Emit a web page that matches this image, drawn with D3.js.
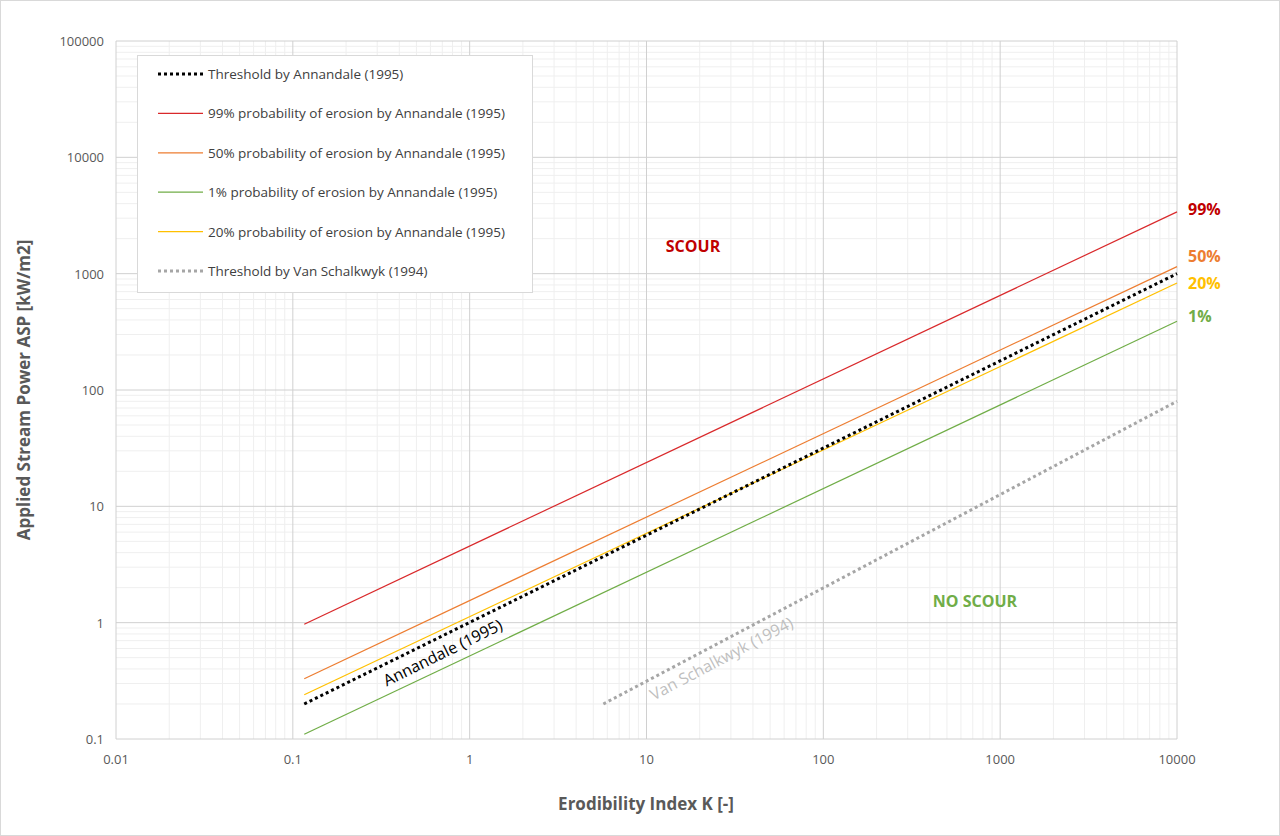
<!DOCTYPE html>
<html><head><meta charset="utf-8">
<script src="https://cdn.jsdelivr.net/npm/d3@7"></script>
<style>body{margin:0;background:#fff}text{font-family:"Open Sans",sans-serif}</style>
</head><body><div id="chart"></div>
<script>
const xTicks = [0.01, 0.1, 1, 10, 100, 1000, 10000];
const yTicks = [0.1, 1, 10, 100, 1000, 10000, 100000];
const seriesNames = ["Threshold by Annandale (1995)", "99% probability of erosion by Annandale (1995)",
  "50% probability of erosion by Annandale (1995)", "1% probability of erosion by Annandale (1995)",
  "20% probability of erosion by Annandale (1995)", "Threshold by Van Schalkwyk (1994)"];
const seriesK = [[0.116, 10000], [0.116, 10000], [0.116, 10000], [0.116, 10000], [0.116, 10000], [5.7, 10000]];
const seriesASP = [[0.2, 1000], [0.97, 3400], [0.33, 1150], [0.11, 390], [0.24, 830], [0.2, 80]];
const seriesColor = ["#000", "#d9292b", "#ed7d31", "#70ad47", "#ffc000", "#a6a6a6"];
const seriesDotted = [true, false, false, false, false, true];
const endLabels = [["99%", 3400, "#c00000"], ["50%", 1150, "#ed7d31"], ["20%", 830, "#ffc000"], ["1%", 390, "#70ad47"]];

const W = 1280, H = 836;
const x = d3.scaleLog().domain([0.01, 10000]).range([116, 1177]);
const y = d3.scaleLog().domain([0.1, 100000]).range([739, 41]);

const svg = d3.select("#chart").append("svg").attr("width", W).attr("height", H);
svg.append("rect").attr("x", 0.5).attr("y", 0.5).attr("width", W - 1).attr("height", H - 1)
  .attr("fill", "#fff").attr("stroke", "#d9d9d9");

// minor grid
const minor = v => d3.range(0, 6).flatMap(i => d3.range(2, 10).map(m => m * v[0] * 10 ** i));
svg.append("g").selectAll("line").data(minor(xTicks)).join("line")
  .attr("x1", d => x(d)).attr("x2", d => x(d)).attr("y1", 41).attr("y2", 739)
  .attr("stroke", "#efefef");
svg.append("g").selectAll("line").data(minor(yTicks)).join("line")
  .attr("y1", d => y(d)).attr("y2", d => y(d)).attr("x1", 116).attr("x2", 1177)
  .attr("stroke", "#efefef");
svg.append("g").selectAll("line").data(xTicks).join("line")
  .attr("x1", d => x(d)).attr("x2", d => x(d)).attr("y1", 41).attr("y2", 739).attr("stroke", "#d0d0d0");
svg.append("g").selectAll("line").data(yTicks).join("line")
  .attr("y1", d => y(d)).attr("y2", d => y(d)).attr("x1", 116).attr("x2", 1177).attr("stroke", "#d0d0d0");

svg.append("g").selectAll("text").data(xTicks).join("text")
  .attr("x", d => x(d)).attr("y", 764).attr("text-anchor", "middle")
  .attr("font-size", 13).attr("fill", "#595959").text(d => d);
svg.append("g").selectAll("text").data(yTicks).join("text")
  .attr("x", 104).attr("y", d => y(d) + 5).attr("text-anchor", "end")
  .attr("font-size", 13).attr("fill", "#595959").text(d => d);

svg.append("text").attr("x", 646).attr("y", 810).attr("text-anchor", "middle")
  .attr("font-size", 17).attr("font-weight", "bold").attr("fill", "#595959").text("Erodibility Index K [-]");
svg.append("text").attr("transform", "translate(30,390) rotate(-90)").attr("text-anchor", "middle")
  .attr("font-size", 17).attr("font-weight", "bold").attr("fill", "#595959").text("Applied Stream Power ASP [kW/m2]");

const line = d3.line().x(d => x(d[0])).y(d => y(d[1]));
const order = [1, 2, 4, 3, 0, 5];
order.forEach(i => {
  svg.append("path").attr("d", line(d3.zip(seriesK[i], seriesASP[i])))
    .attr("fill", "none").attr("stroke", seriesColor[i])
    .attr("stroke-width", seriesDotted[i] ? 3 : 1.2)
    .attr("stroke-dasharray", seriesDotted[i] ? "3,3" : null);
});

// rotated line labels
const angle = (k, a) => Math.atan2(y(a[1]) - y(a[0]), x(k[1]) - x(k[0])) * 180 / Math.PI;
const a0 = angle(seriesK[0], seriesASP[0]);
svg.append("text").attr("transform", `translate(${x(0.34)},${y(0.3) + 3}) rotate(${a0})`)
  .attr("font-size", 16).attr("fill", "#000").text("Annandale (1995)");
const a5 = angle(seriesK[5], seriesASP[5]);
svg.append("text").attr("transform", `translate(${x(11)},${y(0.35) + 25}) rotate(${a5})`)
  .attr("font-size", 16).attr("fill", "#bfbfbf").text("Van Schalkwyk (1994)");

svg.append("g").selectAll("text").data(endLabels).join("text")
  .attr("x", 1188).attr("y", (d, i) => [215, 262, 289, 322][i])
  .attr("font-size", 16).attr("font-weight", "bold").attr("fill", d => d[2]).text(d => d[0]);

svg.append("text").attr("x", 693).attr("y", 252).attr("text-anchor", "middle")
  .attr("font-size", 16).attr("font-weight", "bold").attr("fill", "#c00000").text("SCOUR");
svg.append("text").attr("x", 975).attr("y", 607).attr("text-anchor", "middle")
  .attr("font-size", 16).attr("font-weight", "bold").attr("fill", "#70ad47").text("NO SCOUR");

// legend
const lg = svg.append("g");
lg.append("rect").attr("x", 137.5).attr("y", 55.5).attr("width", 395).attr("height", 237)
  .attr("fill", "#fff").attr("stroke", "#d9d9d9");
seriesNames.forEach((n, i) => {
  const yy = 74 + i * 39.4;
  lg.append("line").attr("x1", 158).attr("x2", 203).attr("y1", yy).attr("y2", yy)
    .attr("stroke", seriesColor[i]).attr("stroke-width", seriesDotted[i] ? 3 : 1.2)
    .attr("stroke-dasharray", seriesDotted[i] ? "3,3" : null);
  lg.append("text").attr("x", 208).attr("y", yy + 5).attr("font-size", 13.5).attr("fill", "#404040").text(n);
});
</script></body></html>
